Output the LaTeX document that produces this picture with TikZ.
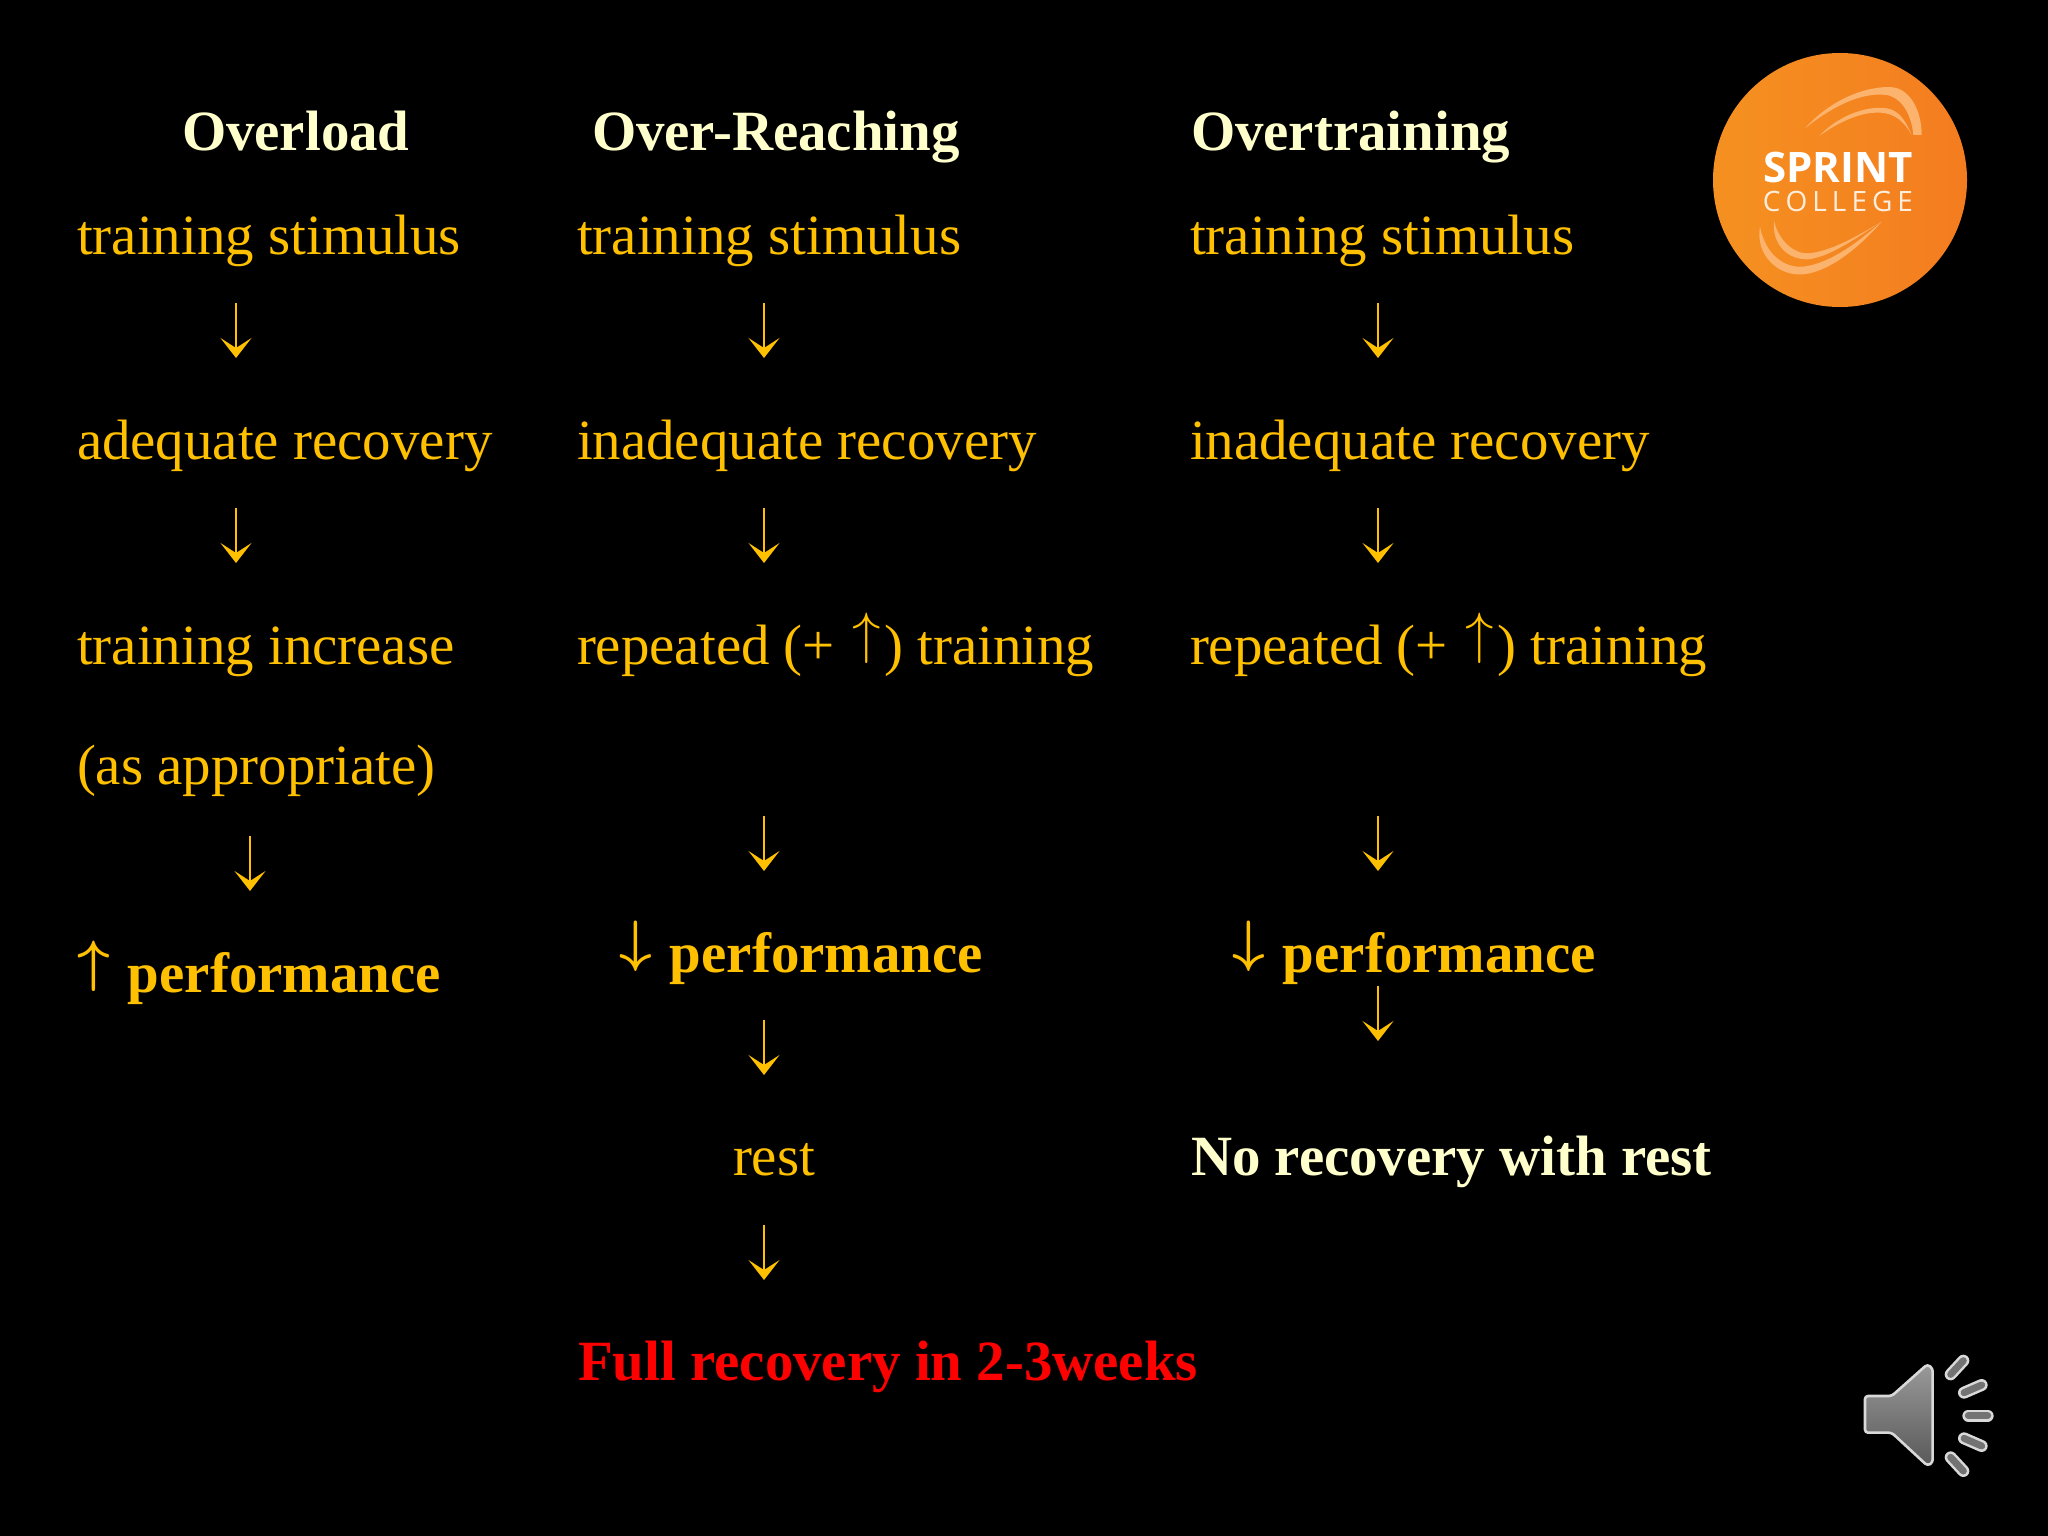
\RequirePackage{fix-cm}
\documentclass[tikz,border=0pt]{standalone}
\usepackage{fontspec}
\usepackage{amsmath}
\setmainfont{Liberation Serif}
\newfontfamily\logofont{Open Sans}
\usetikzlibrary{arrows.meta,calc}
\definecolor{amber}{HTML}{FFC000}
\definecolor{cream}{HTML}{FFFFCC}
\definecolor{hotred}{HTML}{FF0000}
\definecolor{orgA}{HTML}{F59120}
\definecolor{orgB}{HTML}{F47C20}
\definecolor{swoosh}{HTML}{FBB36E}
\newcommand{\upglyph}{\hspace{3pt}\raisebox{.2em}{$\uparrow$}\hspace{3.5pt}}
\newcommand{\upglyphb}{\raisebox{.2em}{\boldmath$\uparrow$}\hspace{4pt}}
\newcommand{\downglyphb}{\raisebox{.2em}{\boldmath$\downarrow$}\hspace{4pt}}
\tikzset{
  lab/.style={anchor=base west,inner sep=0pt,outer sep=0pt,text=amber,font=\fontsize{56.9}{60}\selectfont},
  strong/.style={lab,font=\fontsize{56.9}{60}\selectfont\bfseries},
  head/.style={strong,text=cream},
  flow/.style={draw=amber,line width=2.8pt,-{Stealth[length=20pt,width=31pt,inset=10pt]}},
  ray/.style={line cap=round,line width=12pt,draw=white!85!black},
  rayin/.style={line cap=round,line width=7pt,draw=black!55},
}
\begin{document}
\begin{tikzpicture}[x=1pt,y=-1pt]
\fill[black] (0,0) rectangle (2048,1536);
\useasboundingbox (0,0) rectangle (2048,1536);
% headings
\node[head] (h1) at (182,150.5) {Overload};
\node[head] (h2) at (592,150.5) {Over-Reaching};
\node[head] (h3) at (1191,150.5) {Overtraining};
% column 1
\node[lab] (a1) at (77,254) {training stimulus};
\node[lab] (a2) at (77,459) {adequate recovery};
\node[lab] (a3) at (77,664) {training increase};
\node[lab] (a4) at (77,784) {(as appropriate)};
\node[strong] (a5) at (77,992) {\upglyphb\ performance};
% column 2
\node[lab] (b1) at (577,254) {training stimulus};
\node[lab] (b2) at (577,459) {inadequate recovery};
\node[lab] (b3) at (577,664) {repeated (+ \upglyph) training};
\node[strong] (b4) at (619,972) {\downglyphb\ performance};
\node[lab] (b5) at (733,1175) {rest};
\node[strong,text=hotred] (b6) at (578,1380) {Full recovery in 2-3weeks};
% column 3
\node[lab] (c1) at (1190,254) {training stimulus};
\node[lab] (c2) at (1190,459) {inadequate recovery};
\node[lab] (c3) at (1190,664) {repeated (+ \upglyph) training};
\node[strong] (c4) at (1232,972) {\downglyphb\ performance};
\node[strong,text=cream] (c5) at (1191,1175) {No recovery with rest};
% arrow ends
\coordinate (p1) at (236,303); \coordinate (q1) at (236,358);
\coordinate (p2) at (236,508); \coordinate (q2) at (236,563);
\coordinate (p3) at (250,836); \coordinate (q3) at (250,891);
\coordinate (p4) at (764,303); \coordinate (q4) at (764,358);
\coordinate (p5) at (764,508); \coordinate (q5) at (764,563);
\coordinate (p6) at (764,816); \coordinate (q6) at (764,871);
\coordinate (p7) at (764,1020); \coordinate (q7) at (764,1075);
\coordinate (p8) at (764,1225); \coordinate (q8) at (764,1280);
\coordinate (p9) at (1378,303); \coordinate (q9) at (1378,358);
\coordinate (p10) at (1378,508); \coordinate (q10) at (1378,563);
\coordinate (p11) at (1378,816); \coordinate (q11) at (1378,871);
\coordinate (p12) at (1378,986); \coordinate (q12) at (1378,1041);
\foreach \k in {1,...,12} \draw[flow] (p\k) -- (q\k);
% logo
\shade[left color=orgA,right color=orgB] (1840,180) circle (127);
\begin{scope}[shift={(1680,30)},x=0.3333pt,y=-0.3333pt]
\fill[swoosh] (375,295) .. controls (450,210) and (560,165) .. (640,172)
  .. controls (690,180) and (725,240) .. (725,315) -- (700,315)
  .. controls (695,260) and (670,205) .. (620,195)
  .. controls (540,185) and (450,235) .. cycle;
\fill[swoosh] (418,318) .. controls (470,260) and (560,225) .. (620,235)
  .. controls (660,240) and (680,280) .. (695,315)
  .. controls (670,270) and (640,250) .. (600,248)
  .. controls (540,245) and (470,280) .. cycle;
\fill[swoosh] (240,590) .. controls (225,670) and (290,740) .. (370,733)
  .. controls (450,725) and (540,650) .. (605,575)
  .. controls (530,640) and (450,700) .. (370,710)
  .. controls (310,715) and (255,670) .. cycle;
\fill[swoosh] (282,572) .. controls (275,640) and (320,690) .. (385,688)
  .. controls (450,680) and (520,630) .. (605,575)
  .. controls (530,620) and (450,665) .. (385,670)
  .. controls (340,672) and (295,630) .. cycle;
\end{scope}
\node[inner sep=0pt,text=white,font=\logofont\bfseries\fontsize{42}{44}\selectfont] (s1) at (1838,167) {SPRINT};
\node[inner sep=0pt,text=white!85!orgA,font=\logofont\fontsize{28}{30}\selectfont,anchor=center] (s2) at (1838,201) {C\hspace{5pt}O\hspace{5pt}L\hspace{5pt}L\hspace{5pt}E\hspace{5pt}G\hspace{5pt}E};
% speaker
\begin{scope}[shift={(1840,1330)},x=0.3333pt,y=-0.3333pt]
\shade[top color=black!40,bottom color=black!65,draw=white!85!black,line width=2.6pt,line join=round,rounded corners=3pt]
 (75,198) -- (155,198) -- (262,103) -- (278,115) -- (278,398) -- (262,407) -- (155,308) -- (75,308) -- cycle;
\foreach \a/\b/\c/\d in {332/133/370/92,372/188/425/165,385/257/443/257,372/325/425/348,332/382/370/423}{
  \draw[ray] (\a,\b) -- (\c,\d);
  \draw[rayin] (\a,\b) -- (\c,\d);
}
\end{scope}
\end{tikzpicture}
\end{document}
